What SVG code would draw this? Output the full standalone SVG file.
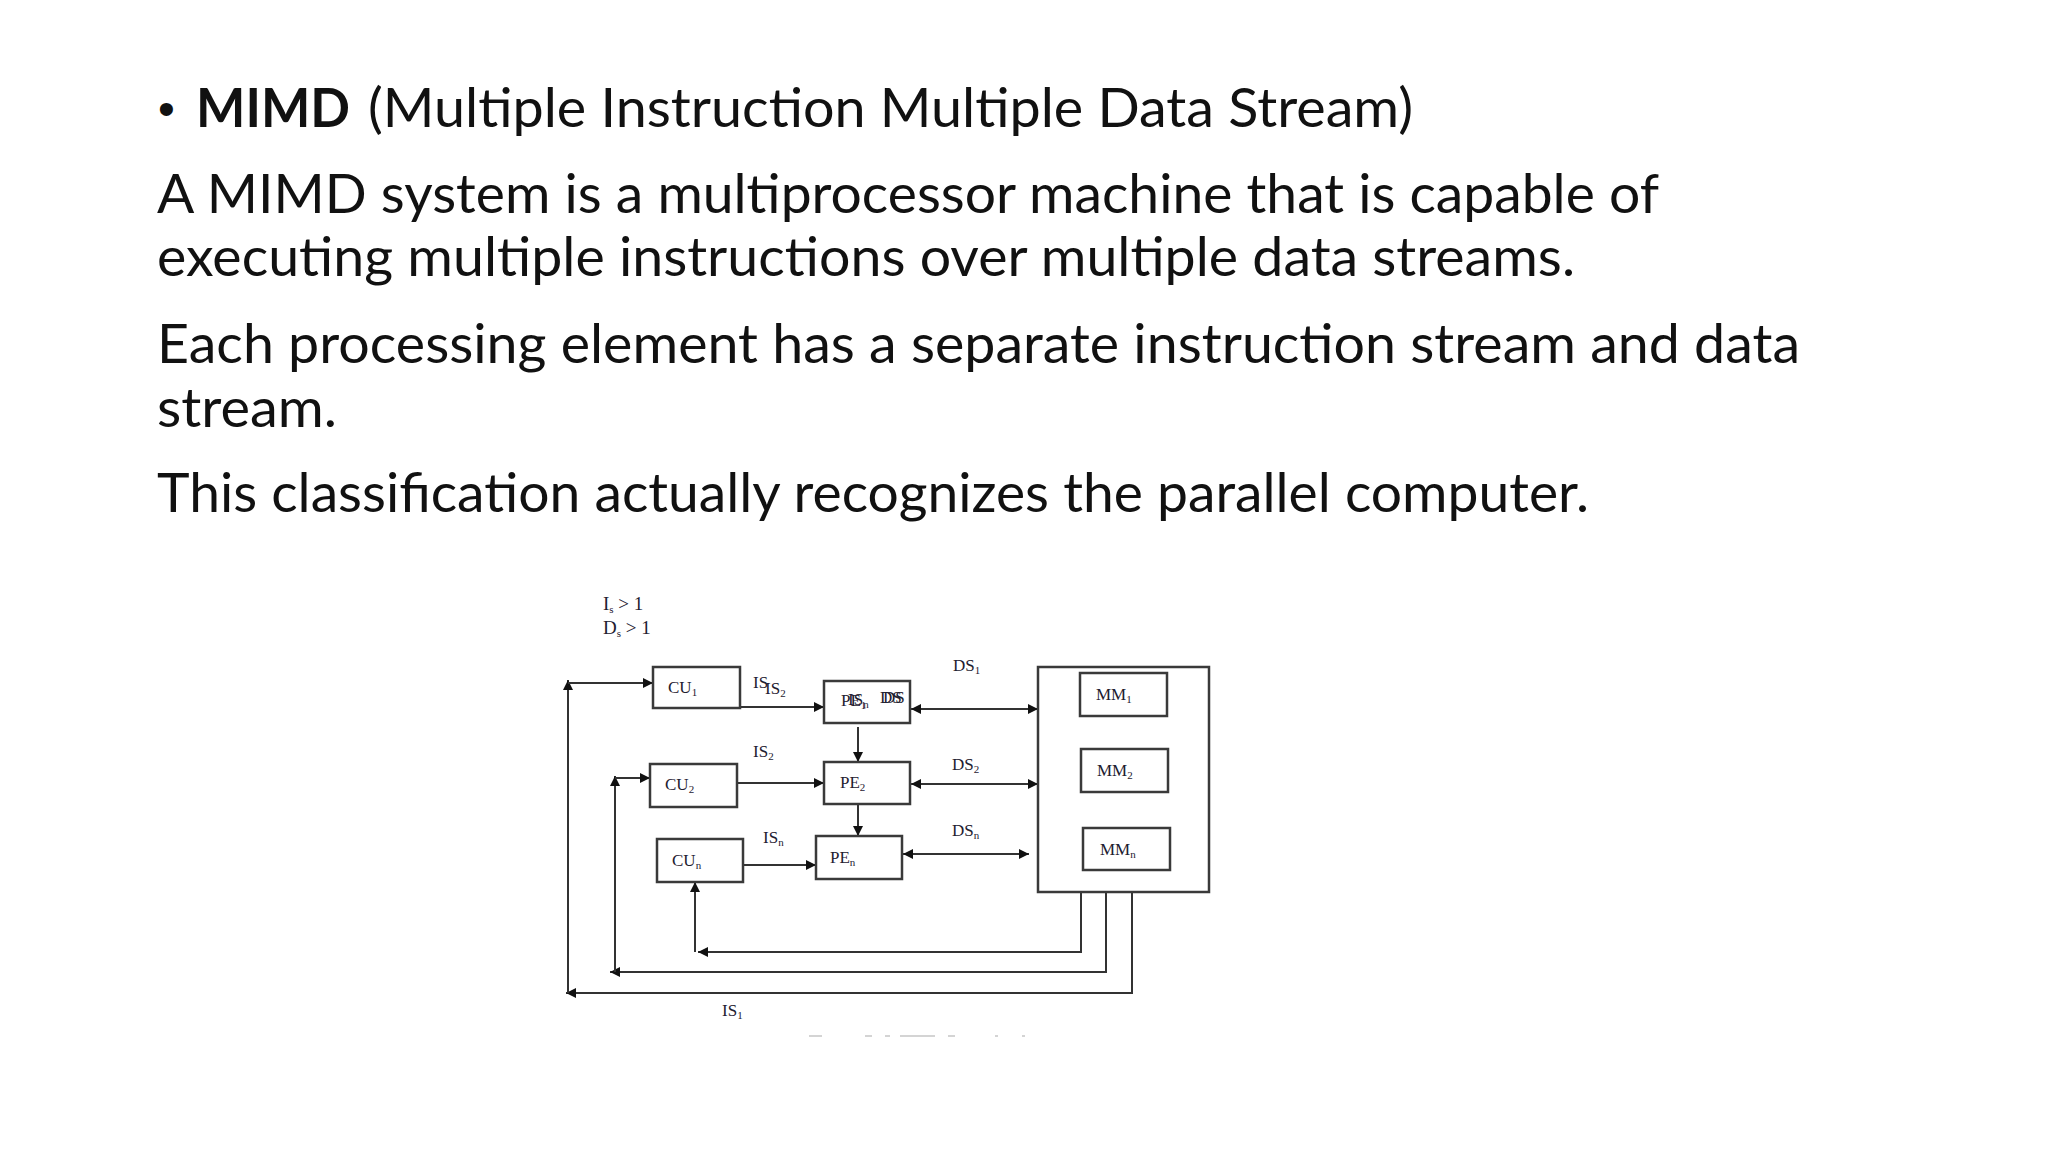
<svg xmlns="http://www.w3.org/2000/svg" width="2048" height="1152" viewBox="0 0 2048 1152">
<defs>
<style>
.main{font-family:"Lato","Open Sans","Liberation Sans",sans-serif;font-size:54px;fill:#111}
.bold{font-weight:bold}
.lbl{font-family:"Liberation Serif","DejaVu Serif",serif;font-size:17px;fill:#1e2030}
.big{font-size:19px}
.sub{font-size:11px}
.box{fill:#fff;stroke:#3a3a3a;stroke-width:2.5}
.ln{fill:none;stroke:#333;stroke-width:2}
.arr{fill:none;stroke:#333;stroke-width:2;marker-end:url(#ah)}
.dbl{fill:none;stroke:#333;stroke-width:2;marker-end:url(#ah);marker-start:url(#ahs)}
</style>
<marker id="ah" viewBox="0 0 10 10" refX="10" refY="5" markerWidth="11" markerHeight="10" markerUnits="userSpaceOnUse" orient="auto">
<path d="M0,0 L10,5 L0,10 z" fill="#111"/>
</marker>
<marker id="ahs" viewBox="0 0 10 10" refX="0" refY="5" markerWidth="11" markerHeight="10" markerUnits="userSpaceOnUse" orient="auto">
<path d="M10,0 L0,5 L10,10 z" fill="#111"/>
</marker>
</defs>
<rect width="2048" height="1152" fill="#fff"/>

<g id="slide-text">
<text x="158" y="125" style="font-family:'Liberation Sans',sans-serif;font-size:48px;fill:#111">•</text>
<text class="main bold" x="196" y="127" textLength="154" lengthAdjust="spacingAndGlyphs">MIMD</text>
<text class="main" x="368" y="127" textLength="1045" lengthAdjust="spacingAndGlyphs">(Multiple Instruction Multiple Data Stream)</text>
<text class="main" x="157" y="213" textLength="1502" lengthAdjust="spacingAndGlyphs">A MIMD system is a multiprocessor machine that is capable of</text>
<text class="main" x="157" y="276" textLength="1418" lengthAdjust="spacingAndGlyphs">executing multiple instructions over multiple data streams.</text>
<text class="main" x="157" y="363" textLength="1643" lengthAdjust="spacingAndGlyphs">Each processing element has a separate instruction stream and data</text>
<text class="main" x="157" y="427" textLength="180" lengthAdjust="spacingAndGlyphs">stream.</text>
<text class="main" x="157" y="512" textLength="1432" lengthAdjust="spacingAndGlyphs">This classification actually recognizes the parallel computer.</text>
</g>

<g id="conditions">
<text class="lbl big" x="603" y="610">I<tspan class="sub" dy="3">s</tspan><tspan dy="-3"> &gt; 1</tspan></text>
<text class="lbl big" x="603" y="634">D<tspan class="sub" dy="3">s</tspan><tspan dy="-3"> &gt; 1</tspan></text>
</g>

<g id="connectors">
<line class="arr" x1="740" y1="707" x2="824" y2="707"/>
<line class="arr" x1="737" y1="783" x2="824" y2="783"/>
<line class="arr" x1="743" y1="865" x2="816" y2="865"/>
<line class="arr" x1="858" y1="727" x2="858" y2="762"/>
<line class="arr" x1="858" y1="804" x2="858" y2="836"/>
<line class="dbl" x1="911" y1="709" x2="1038" y2="709"/>
<line class="dbl" x1="911" y1="784" x2="1038" y2="784"/>
<line class="dbl" x1="903" y1="854" x2="1029" y2="854"/>
<polyline class="ln" points="1132,892 1132,993 570,993"/>
<line class="arr" x1="590" y1="993" x2="566" y2="993"/>
<line class="arr" x1="568" y1="993" x2="568" y2="680"/>
<line class="arr" x1="568" y1="683" x2="653" y2="683"/>
<polyline class="ln" points="1106,892 1106,972 615,972"/>
<line class="arr" x1="640" y1="972" x2="610" y2="972"/>
<line class="arr" x1="615" y1="972" x2="615" y2="776"/>
<line class="arr" x1="615" y1="778" x2="650" y2="778"/>
<polyline class="ln" points="1081,892 1081,952 700,952"/>
<line class="arr" x1="720" y1="952" x2="698" y2="952"/>
<line class="arr" x1="695" y1="952" x2="695" y2="882"/>
</g>

<g id="cu1"><rect class="box" x="653" y="667" width="87" height="41"/><text class="lbl" x="668" y="693">CU<tspan class="sub" dy="3">1</tspan></text></g>
<g id="cu2"><rect class="box" x="650" y="764" width="87" height="43"/><text class="lbl" x="665" y="790">CU<tspan class="sub" dy="3">2</tspan></text></g>
<g id="cun"><rect class="box" x="657" y="839" width="86" height="43"/><text class="lbl" x="672" y="866">CU<tspan class="sub" dy="3">n</tspan></text></g>

<g id="pe1"><rect class="box" x="824" y="681" width="86" height="42"/>
<text class="lbl" x="841" y="706">PE<tspan class="sub" dy="3">1</tspan></text>
<text class="lbl" x="848" y="705">IS<tspan class="sub" dy="3">n</tspan></text>
<text class="lbl" x="880" y="703">DS</text>
<text class="lbl" x="883" y="703">DS</text>
</g>
<g id="pe2"><rect class="box" x="824" y="762" width="86" height="42"/><text class="lbl" x="840" y="788">PE<tspan class="sub" dy="3">2</tspan></text></g>
<g id="pen"><rect class="box" x="816" y="836" width="86" height="43"/><text class="lbl" x="830" y="863">PE<tspan class="sub" dy="3">n</tspan></text></g>

<g id="memory">
<rect class="box" x="1038" y="667" width="171" height="225"/>
<g id="mm1"><rect class="box" x="1080" y="673" width="87" height="43"/><text class="lbl" x="1096" y="700">MM<tspan class="sub" dy="3">1</tspan></text></g>
<g id="mm2"><rect class="box" x="1081" y="749" width="87" height="43"/><text class="lbl" x="1097" y="776">MM<tspan class="sub" dy="3">2</tspan></text></g>
<g id="mmn"><rect class="box" x="1083" y="828" width="87" height="42"/><text class="lbl" x="1100" y="855">MM<tspan class="sub" dy="3">n</tspan></text></g>
</g>

<g id="labels">
<text class="lbl" x="753" y="688">IS</text>
<text class="lbl" x="765" y="694">IS<tspan class="sub" dy="3">2</tspan></text>
<text class="lbl" x="753" y="757">IS<tspan class="sub" dy="3">2</tspan></text>
<text class="lbl" x="763" y="843">IS<tspan class="sub" dy="3">n</tspan></text>
<text class="lbl" x="953" y="671">DS<tspan class="sub" dy="3">1</tspan></text>
<text class="lbl" x="952" y="770">DS<tspan class="sub" dy="3">2</tspan></text>
<text class="lbl" x="952" y="836">DS<tspan class="sub" dy="3">n</tspan></text>
<text class="lbl" x="722" y="1016">IS<tspan class="sub" dy="3">1</tspan></text>
</g>

<g id="faint-caption" stroke="#d4d4d4" stroke-width="2">
<line x1="809" y1="1036" x2="822" y2="1036"/>
<line x1="865" y1="1036" x2="872" y2="1036"/>
<line x1="885" y1="1036" x2="890" y2="1036"/>
<line x1="900" y1="1036" x2="935" y2="1036"/>
<line x1="948" y1="1036" x2="955" y2="1036"/>
<line x1="995" y1="1036" x2="998" y2="1036"/>
<line x1="1022" y1="1036" x2="1025" y2="1036"/>
</g>
</svg>
